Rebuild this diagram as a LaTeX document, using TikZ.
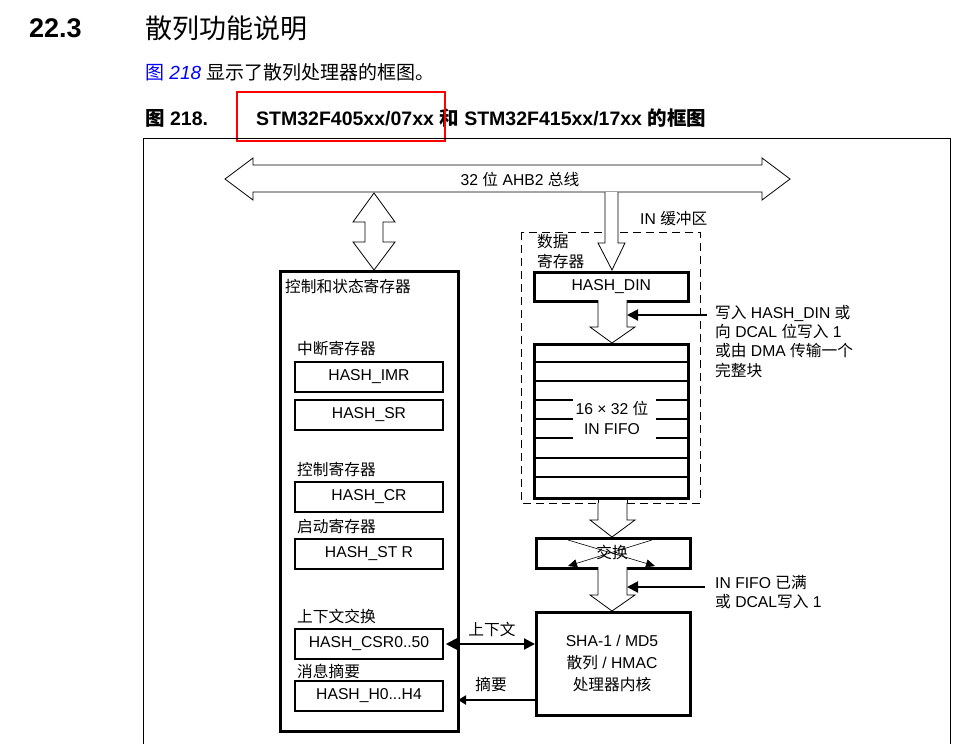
\documentclass[tikz,border=0pt]{standalone}
\usepackage{fontspec}
\setmainfont{Liberation Sans}
\newfontfamily\cjk{Noto Sans CJK SC}
\newcommand{\C}[1]{{\cjk #1}}
\usetikzlibrary{arrows.meta}
\begin{document}
\begin{tikzpicture}[x=1pt,y=-1pt,
  txt/.style={inner sep=0pt,font=\fontsize{15.7}{17}\selectfont},
  reg/.style={draw,line width=2.6pt,minimum width=148pt,minimum height=30pt,inner sep=0pt,font=\fontsize{15.7}{17}\selectfont},
  big/.style={draw,line width=2.6pt,inner sep=0pt},
  hollow/.style={draw,line width=0.8pt,fill=white},
  sig/.style={line width=2pt,-{Triangle[length=11pt,width=11pt]}}]
\useasboundingbox (0,0) rectangle (975,744);
% header
\node[anchor=west,inner sep=0pt,font=\bfseries\fontsize{27}{29}\selectfont] (sec) at (29,28) {22.3};
\node[anchor=west,inner sep=0pt,font=\fontsize{27}{29}\selectfont] (sect) at (145,28) {\C{散列功能说明}};
\node[anchor=west,inner sep=0pt,font=\fontsize{19}{21}\selectfont] (intro) at (145,72) {\textcolor{blue}{\C{\itshape 图} \itshape 218} \C{显示了散列处理器的框图。}};
\node[anchor=west,inner sep=0pt,font=\bfseries\fontsize{19.5}{21}\selectfont] (cap1) at (145,118) {\C{图} 218.};
\node[anchor=west,inner sep=0pt,font=\bfseries\fontsize{19.5}{21}\selectfont] (cap2) at (256,118) {STM32F405xx/07xx \C{和} STM32F415xx/17xx \C{的框图}};
\draw[red,line width=2pt] (237,92) rectangle (445,141);
% frame
\draw[line width=1pt] (143,800) -- (143,138) -- (950,138) -- (950,800);
% bus
\draw[hollow] (225,179) -- (253,158) -- (253,165) -- (762,165) -- (762,158) -- (790,179) -- (762,200) -- (762,192) -- (253,192) -- (253,200) -- cycle;
\node[txt] (bus) at (520,179) {32 \C{位} AHB2 \C{总线}};
% vertical double arrow
\draw[hollow] (374,193) -- (395,222) -- (383,222) -- (383,242) -- (395,242) -- (374,270) -- (353,242) -- (365,242) -- (365,222) -- (353,222) -- cycle;
% left big box
\node[big,minimum width=178pt,minimum height=460pt,anchor=north west] (ctl) at (279,270) {};
\node[txt,anchor=west] (ctlt) at (285,286) {\C{控制和状态寄存器}};
\node[txt,anchor=west] (l1) at (297,349) {\C{中断寄存器}};
\node[reg] (imr) at (369,377) {HASH\_IMR};
\node[reg] (sr) at (369,415) {HASH\_SR};
\node[txt,anchor=west] (l2) at (297,469) {\C{控制寄存器}};
\node[reg] (cr) at (369,497) {HASH\_CR};
\node[txt,anchor=west] (l3) at (297,526) {\C{启动寄存器}};
\node[reg] (str) at (369,554) {HASH\_ST R};
\node[txt,anchor=west] (l4) at (297,616) {\C{上下文交换}};
\node[reg] (csr) at (369,644) {HASH\_CSR0..50};
\node[txt,anchor=west] (l5) at (297,671) {\C{消息摘要}};
\node[reg] (h) at (369,696) {HASH\_H0...H4};
% IN buffer
\draw[line width=0.8pt,dash pattern=on 8pt off 5pt] (521,232) rectangle (700,503);
\node[txt,anchor=west] (inb) at (640,219) {IN \C{缓冲区}};
\node[txt,anchor=west,align=left,font=\fontsize{15.7}{20}\selectfont] (dr) at (537,252) {\C{数据}\\\C{寄存器}};
% bus -> DIN arrow
\draw[hollow] (605,192) -- (605,243) -- (598,243) -- (612,270) -- (625,243) -- (618,243) -- (618,192);
\node[big,minimum width=154pt,minimum height=29pt,anchor=north west,font=\fontsize{15.7}{17}\selectfont] (din) at (533,271) {HASH\_DIN};
% DIN -> FIFO
\draw[hollow] (598,300) -- (598,327) -- (590,327) -- (612,343) -- (635,327) -- (627,327) -- (627,300);
% FIFO
\node[big,minimum width=154pt,minimum height=154pt,anchor=north west] (fifo) at (533,343) {};
\foreach \yy in {362,381,458,477} \draw[line width=2.6pt] (533,\yy) -- (687,\yy);
\foreach \yy in {400,419,438} {\draw[line width=2.6pt] (533,\yy) -- (573,\yy); \draw[line width=2.6pt] (656,\yy) -- (687,\yy);}
\node[txt,align=center,font=\fontsize{15.7}{20}\selectfont] (fifot) at (612,418) {16 × 32 \C{位}\\IN FIFO};
% FIFO -> swap
\draw[hollow] (598,503) -- (598,520) -- (590,520) -- (612,537) -- (635,520) -- (627,520) -- (627,503);
\draw[line width=0.8pt] (598,497) -- (598,503) (627,497) -- (627,503);
\node[big,minimum width=154pt,minimum height=30pt,anchor=north west] (swap) at (535,537) {};
\draw[line width=0.6pt,-{Triangle[length=9pt,width=8pt]}] (568,540) -- (655,566);
\draw[line width=0.6pt,-{Triangle[length=9pt,width=8pt]}] (652,540) -- (568,566);
\node[txt] (swapt) at (612,552) {\C{交换}};
% swap -> core
\draw[hollow] (598,567) -- (598,595) -- (590,595) -- (612,611) -- (635,595) -- (627,595) -- (627,567);
\node[big,minimum width=154pt,minimum height=103pt,anchor=north west] (core) at (535,611) {};
\node[txt,align=center,font=\fontsize{15.7}{22}\selectfont] (coret) at (612,663) {SHA-1 / MD5\\\C{散列} / HMAC\\\C{处理器内核}};
% side inputs
\coordinate (w1) at (707,315);
\draw[sig] (w1) -- (627,315);
\node[txt,anchor=north west,align=left,font=\fontsize{15.7}{19.3}\selectfont] (w1t) at (715,305) {\C{写入} HASH\_DIN \C{或}\\\C{向} DCAL \C{位写入} 1\\\C{或由} DMA \C{传输一个}\\\C{完整块}};
\coordinate (w2) at (705,587);
\draw[sig] (w2) -- (627,587);
\node[txt,anchor=north west,align=left,font=\fontsize{15.7}{19}\selectfont] (w2t) at (715,575) {IN FIFO \C{已满}\\\C{或} DCAL\C{写入} 1};
% context / digest
\coordinate (cx) at (535,644);
\draw[line width=2pt,{Triangle[length=11pt,width=11pt]}-{Triangle[length=11pt,width=11pt]}] (csr.east) ++(1.5,0) -- (cx);
\node[txt] (ctx) at (492,629) {\C{上下文}};
\draw[line width=2pt,-{Triangle[length=8pt,width=9pt]}] (535,700) -- (458,700);
\node[txt] (dig) at (491,684) {\C{摘要}};
\end{tikzpicture}
\end{document}
